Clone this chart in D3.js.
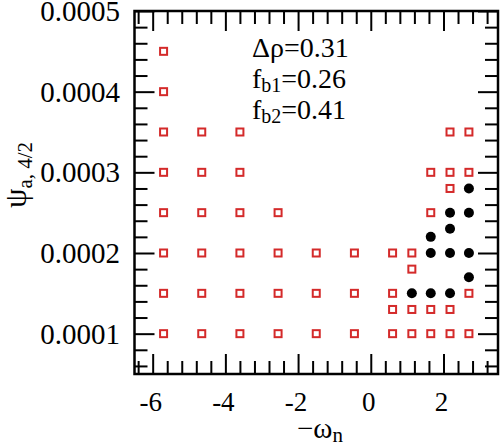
<!DOCTYPE html>
<html>
<head>
<meta charset="utf-8">
<script src="https://cdn.jsdelivr.net/npm/d3@7"></script>
<style>
    body { margin: 0; background: #fff; }
</style>
</head>
<body>
<svg id="chart"></svg>
<script>
// data
// open red squares
const squareX = [
    -5.7, -5.7, -5.7, -4.65, -3.6, -5.7, -4.65, -3.6, -5.7, -4.65, -3.6, -2.55,
    -5.7, -4.65, -3.6, -2.55, -1.5, -0.45, 0.6, 1.13,
    -5.7, -4.65, -3.6, -2.55, -1.5, -0.45, 0.6,
    -5.7, -4.65, -3.6, -2.55, -1.5, -0.45, 0.6, 1.13, 1.65, 2.18, 2.7,
    0.6, 1.13, 1.65, 2.18,
    2.18, 2.7, 1.65, 2.18, 2.7, 2.18, 1.65, 1.13, 2.7
]
const squareY = [
    0.00045, 0.0004, 0.00035, 0.00035, 0.00035, 0.0003, 0.0003, 0.0003, 0.00025, 0.00025, 0.00025, 0.00025,
    0.0002, 0.0002, 0.0002, 0.0002, 0.0002, 0.0002, 0.0002, 0.0002,
    0.00015, 0.00015, 0.00015, 0.00015, 0.00015, 0.00015, 0.00015,
    0.0001, 0.0001, 0.0001, 0.0001, 0.0001, 0.0001, 0.0001, 0.0001, 0.0001, 0.0001, 0.0001,
    0.00013, 0.00013, 0.00013, 0.00013,
    0.00035, 0.00035, 0.0003, 0.0003, 0.0003, 0.00028, 0.00025, 0.00018, 0.00015
]
// filled black circles
const circleX = [2.7, 2.18, 2.7, 2.18, 1.65, 1.65, 2.18, 2.7, 2.7, 1.13, 1.65, 2.18]
const circleY = [0.00028, 0.00025, 0.00025, 0.00023, 0.00022, 0.0002, 0.0002, 0.0002, 0.00017, 0.00015, 0.00015, 0.00015]

const xMajor = [-6, -4, -2, 0, 2]
const xMinor = [-6.4, -5.6, -5.2, -4.8, -4.4, -3.6, -3.2, -2.8, -2.4, -1.6, -1.2, -0.8, -0.4,
                0.4, 0.8, 1.2, 1.6, 2.4, 2.8, 3.2]
const yMajor = [0.0001, 0.0002, 0.0003, 0.0004, 0.0005]
const yMinor = [0.00006, 0.00008, 0.00012, 0.00014, 0.00016, 0.00018, 0.00022, 0.00024, 0.00026, 0.00028,
                0.00032, 0.00034, 0.00036, 0.00038, 0.00042, 0.00044, 0.00046, 0.00048]
const notes = [["Δρ=0.31", "", ""], ["f", "b1", "=0.26"], ["f", "b2", "=0.41"]]

const WIDTH = 500
const HEIGHT = 445
const LEFT = 134.5, RIGHT = 498, TOP = 11, BOTTOM = 374
const MAJOR = 20, MINOR = 13
const FONT = "Liberation Serif"

const svg = d3.select("#chart").attr("width", WIDTH).attr("height", HEIGHT)

const x = d3.scaleLinear().domain([-6.5, 3.5]).range([LEFT, RIGHT])
const y = d3.scaleLinear().domain([0.00005, 0.0005]).range([BOTTOM, TOP])

// inward ticks on all four sides
function ticks(axisFn, scale, values, size, pos) {
    const g = svg.append("g")
        .attr("transform", pos)
        .call(axisFn(scale).tickValues(values).tickSize(-size).tickFormat(""))
    g.select(".domain").remove()
    g.selectAll("line").attr("stroke", "#000").attr("stroke-width", 2)
}
ticks(d3.axisBottom, x, xMajor, MAJOR, `translate(0,${BOTTOM})`)
ticks(d3.axisBottom, x, xMinor, MINOR, `translate(0,${BOTTOM})`)
ticks(d3.axisTop, x, xMajor, MAJOR, `translate(0,${TOP})`)
ticks(d3.axisTop, x, xMinor, MINOR, `translate(0,${TOP})`)
ticks(d3.axisLeft, y, yMajor, MAJOR, `translate(${LEFT},0)`)
ticks(d3.axisLeft, y, yMinor, MINOR, `translate(${LEFT},0)`)
ticks(d3.axisRight, y, yMajor, MAJOR, `translate(${RIGHT},0)`)
ticks(d3.axisRight, y, yMinor, MINOR, `translate(${RIGHT},0)`)

svg.append("rect")
    .attr("x", LEFT).attr("y", TOP)
    .attr("width", RIGHT - LEFT).attr("height", BOTTOM - TOP)
    .attr("fill", "none").attr("stroke", "#000").attr("stroke-width", 2.5)

// tick labels
svg.selectAll(".xl").data(xMajor).enter().append("text")
    .attr("x", d => x(d) - 2).attr("y", 411)
    .attr("text-anchor", "middle")
    .style("font-family", FONT).style("font-size", "27px")
    .text(d => d)
svg.selectAll(".yl").data(yMajor).enter().append("text")
    .attr("x", 120).attr("y", d => y(d) + 10)
    .attr("text-anchor", "end")
    .style("font-family", FONT).style("font-size", "29px")
    .text(d => d3.format(".4f")(d))

// points
const pts = svg.append("g")
pts.selectAll("rect").data(squareX).enter().append("rect")
    .attr("x", (d, i) => x(d) - 3.5)
    .attr("y", (d, i) => y(squareY[i]) - 3.5)
    .attr("width", 7).attr("height", 7)
    .attr("fill", "#fff").attr("stroke", "#d42a2a").attr("stroke-width", 2)
pts.selectAll("circle").data(circleX).enter().append("circle")
    .attr("cx", d => x(d))
    .attr("cy", (d, i) => y(circleY[i]))
    .attr("r", 5).attr("fill", "#000")

// annotation
notes.forEach((n, i) => {
    const t = svg.append("text").attr("x", 252).attr("y", 57 + i * 31)
        .style("font-family", FONT).style("font-size", "28px")
    t.append("tspan").text(n[0])
    if (n[1]) {
        t.append("tspan").attr("dy", 4).style("font-size", "20px").text(n[1])
        t.append("tspan").attr("dy", -4).text(n[2])
    }
})

// axis titles
const xt = svg.append("text").attr("x", 297).attr("y", 438)
    .style("font-family", FONT).style("font-size", "29px")
xt.append("tspan").text("−ω")
xt.append("tspan").attr("dy", 4).style("font-size", "21px").text("n")

const yt = svg.append("text").attr("transform", "translate(26,208) rotate(-90)")
    .style("font-family", FONT).style("font-size", "31px")
yt.append("tspan").text("ψ")
yt.append("tspan").attr("dy", 6).style("font-size", "21px").text("a, 4/2")
</script>
</body>
</html>
